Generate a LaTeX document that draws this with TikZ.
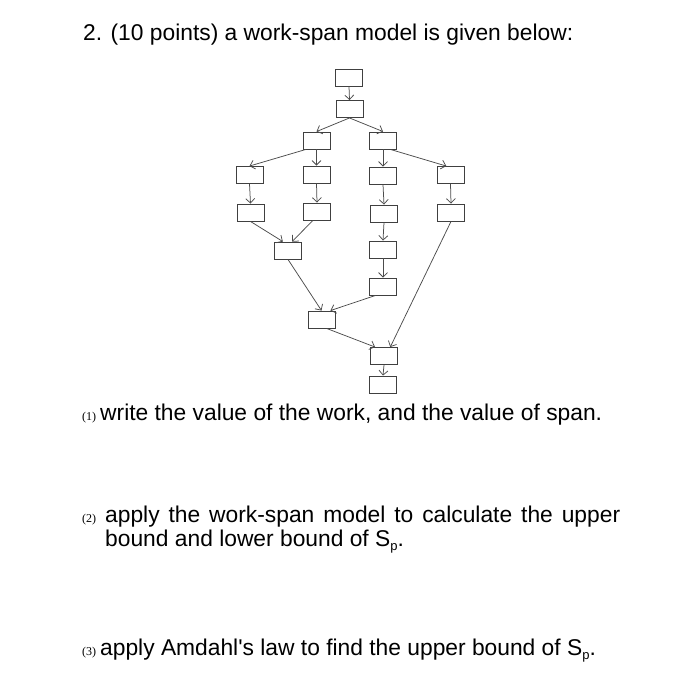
\documentclass[tikz,border=0pt]{standalone}
\usepackage{fontspec}
\setmainfont{Liberation Sans}
\newfontfamily\numfont{Liberation Serif}
\usetikzlibrary{arrows.meta}

\newcommand{\subp}{\raisebox{-0.35ex}{\fontsize{13}{13}\selectfont p}}

\tikzset{
  task/.style={draw=black!75, line width=0.9pt, minimum width=27pt, minimum height=17pt, inner sep=0pt},
  edge/.style={draw=black!70, line width=0.75pt, ->},
  qtext/.style={anchor=base west, inner sep=0pt, font=\fontsize{22.8}{27}\selectfont},
  qnum/.style={anchor=base west, inner sep=0pt, font=\numfont\fontsize{12}{14}\selectfont}
}

\begin{document}
\begin{tikzpicture}[x=1pt,y=-1pt,>={Straight Barb[length=4.5pt,width=9pt]}]
\useasboundingbox (0,0) rectangle (700,688);

% Title
\node[qtext] (title) at (83,40) {2. (10 points) a work-span model is given below:};

% Tasks
\node[task] (a) at (349,77.5) {};
\node[task] (b) at (349.5,109) {};
\node[task] (c) at (316.5,140.5) {};
\node[task] (d) at (383,140.5) {};
\node[task] (e1) at (249.5,175) {};
\node[task] (e2) at (316.5,174.5) {};
\node[task] (e3) at (383,175.5) {};
\node[task] (e4) at (450.5,175) {};
\node[task] (f1) at (250.5,212.5) {};
\node[task] (f2) at (317,211.5) {};
\node[task] (f3) at (384,213.5) {};
\node[task] (f4) at (451,212.5) {};
\node[task] (g) at (288,250.5) {};
\node[task] (h) at (383,249.5) {};
\node[task] (i) at (383,286.5) {};
\node[task] (j) at (321.5,319.5) {};
\node[task] (k) at (384,356) {};
\node[task] (l) at (383,384.5) {};

% Dependencies
\draw[edge] (a.south) -- (b.north);
\draw[edge] (b.south) -- (c.north);
\draw[edge] (b.south) -- (d.north);
\draw[edge] (c.-140) -- (e1.north);
\draw[edge] (c.south) -- (e2.north);
\draw[edge] (d.south) -- (e3.north);
\draw[edge] (d.-50) -- (e4.115);
\draw[edge] (e1.south) -- (f1.north);
\draw[edge] (e2.south) -- (f2.north);
\draw[edge] (e3.south) -- (f3.north);
\draw[edge] (e4.south) -- (f4.north);
\draw[edge] (f1.south) -- (g.120);
\draw[edge] (f2.-115) -- (g.65);
\draw[edge] (f3.south) -- (h.north);
\draw[edge] (h.south) -- (i.north);
\draw[edge] (g.south) -- (j.north);
\draw[edge] (i.-130) -- (j.45);
\draw[edge] (j.-60) -- (k.135);
\draw[edge] (f4.south) -- (k.55);
\draw[edge] (k.south) -- (l.north);

% Questions
\node[qnum] (n1) at (82,420) {(1)};
\node[qtext] (q1) at (100,420) {write the value of the work, and the value of span.};

\node[qnum] (n2) at (82,522) {(2)};
\node[qtext] (q2) at (105,522) {\makebox[515pt][s]{apply the work-span model to calculate the upper}};
\node[qtext] (q2b) at (105,546) {bound and lower bound of S\subp.};

\node[qnum] (n3) at (82,655) {(3)};
\node[qtext] (q3) at (100,655) {apply Amdahl\textquotesingle s law to find the upper bound of S\subp.};

\end{tikzpicture}
\end{document}
